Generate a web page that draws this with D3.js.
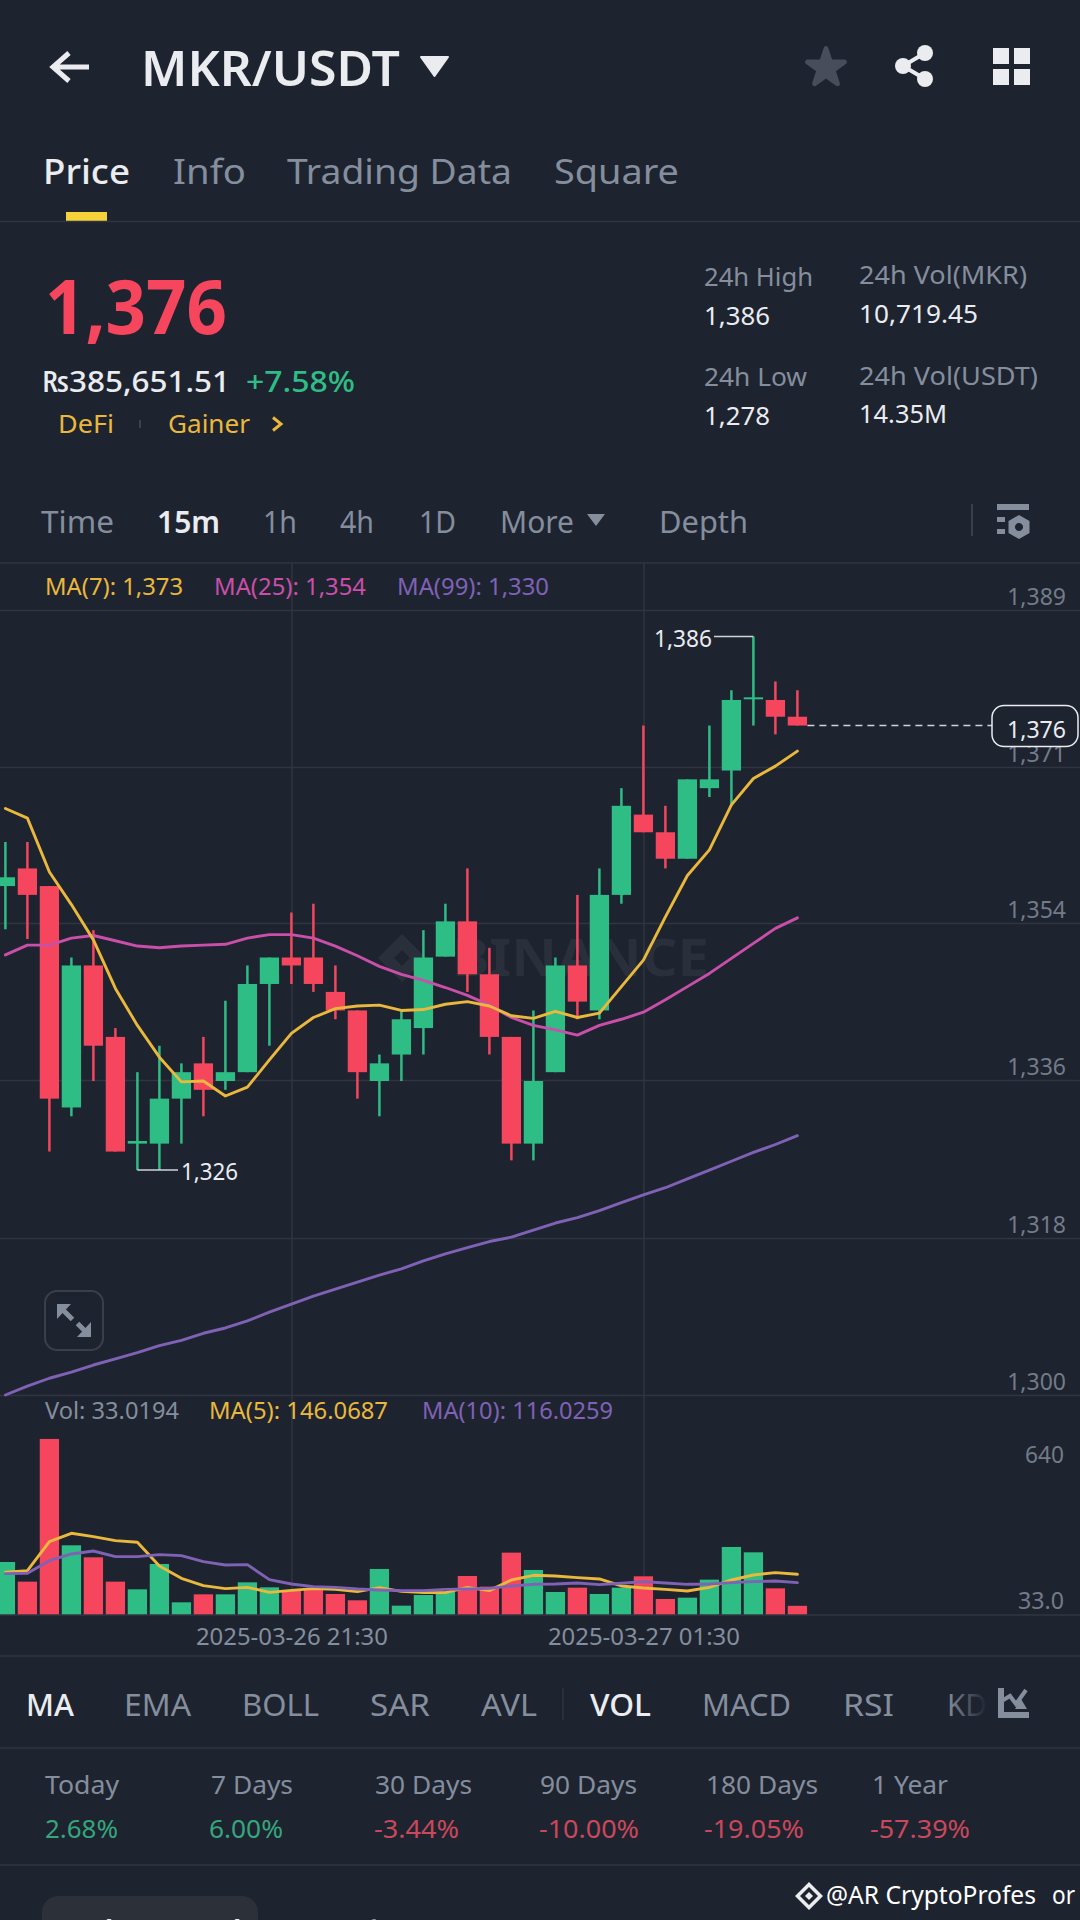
<!DOCTYPE html>
<html><head><meta charset="utf-8">
<script src="https://cdn.jsdelivr.net/npm/d3@7"></script>
<style>
html,body{margin:0;padding:0;background:#1e2330;overflow:hidden}
svg{display:block}
text{font-family:"Noto Sans",Roboto,sans-serif}
</style></head><body><div id="c"></div>
<script>
const opens=[1357.7,1359.7,1357.7,1332.6,1348.7,1340.6,1328.5,1328.5,1333.6,1337.6,1335.6,1336.6,1346.6,1349.6,1349.6,1345.7,1343.6,1335.6,1338.6,1341.6,1349.7,1353.7,1347.7,1340.6,1328.5,1336.6,1348.7,1343.6,1356.7,1365.8,1363.8,1360.8,1368.8,1370.8,1378.9,1378.8,1376.9];
const closes=[1358.7,1356.7,1333.6,1348.7,1339.6,1327.6,1328.8,1333.6,1336.6,1334.6,1336.6,1346.6,1349.6,1348.7,1346.6,1343.6,1336.6,1337.6,1342.6,1349.6,1353.7,1347.7,1340.6,1328.5,1335.6,1348.7,1344.6,1356.7,1366.8,1363.8,1360.8,1369.8,1369.8,1378.8,1379.1,1376.9,1375.9];
const highs=[1362.7,1362.7,1357.7,1349.6,1352.7,1341.6,1336.6,1339.6,1337.6,1340.6,1344.7,1348.7,1349.6,1354.7,1355.7,1348.7,1343.6,1338.6,1343.6,1352.7,1355.7,1359.7,1350.7,1340.6,1343.6,1349.6,1356.7,1359.7,1368.8,1375.9,1366.8,1369.8,1375.9,1379.9,1386,1380.9,1379.9];
const lows=[1352.8,1351.7,1327.6,1331.6,1335.6,1327.6,1325.5,1325.5,1328.5,1331.6,1334.6,1336.6,1339.6,1346.6,1345.7,1342.6,1333.6,1331.6,1335.6,1338.6,1349.7,1345.7,1338.6,1326.6,1326.6,1336.6,1342.6,1342.6,1355.7,1363.8,1359.7,1360.8,1367.8,1366.8,1375.9,1374.9,1375.9];
const ma7=[1366.5,1365.4,1359.3,1355.6,1351.6,1346.1,1341.9,1338.3,1335.5,1335.6,1333.9,1334.9,1338.0,1341.0,1342.8,1343.8,1344.1,1344.2,1343.6,1343.7,1344.3,1344.6,1344.1,1343.0,1342.7,1343.5,1342.8,1343.3,1346.3,1349.3,1354.2,1358.9,1361.8,1366.9,1369.9,1371.3,1373.0];
const ma25=[1349.9,1351.0,1351.0,1351.8,1352.1,1351.5,1350.9,1350.7,1350.9,1351.0,1351.1,1351.8,1352.2,1352.2,1351.8,1350.9,1349.8,1348.6,1347.7,1347.0,1346.2,1345.3,1344.2,1342.8,1341.9,1341.4,1340.8,1341.9,1342.6,1343.4,1344.8,1346.3,1347.8,1349.5,1351.2,1352.9,1354.1];
const ma99=[1300.0,1301.0,1301.9,1302.6,1303.4,1304.1,1304.8,1305.6,1306.2,1307.0,1307.6,1308.4,1309.4,1310.3,1311.2,1312.0,1312.8,1313.6,1314.3,1315.2,1316.0,1316.7,1317.4,1317.9,1318.7,1319.5,1320.1,1320.9,1321.8,1322.7,1323.5,1324.5,1325.5,1326.5,1327.5,1328.4,1329.4];
const volumes=[190.6,119.9,633,250.6,207.4,119.9,92.3,183.5,45.6,74.3,74.3,117.5,99.5,87.5,92.3,75.5,52.8,165.5,33.6,71.9,83.9,140.3,101.9,224.2,161.9,82.7,98.3,75.5,98.3,139.1,57.6,62.4,127.1,244.6,225.4,95.9,33.0];
const volMa5=[153.5,159.5,263.8,293.8,281.8,267.4,261.4,176.3,131.9,105.5,94.7,99.5,81.5,88.7,94.7,92.3,83.9,98.3,85.1,80.3,80.3,99.5,87.5,125.9,142.7,140.3,134.3,129.5,104.3,97.1,92.3,86.3,99.5,125.9,143.9,152.3,146.3];
const volMa10=[148.7,149.9,195.4,219.4,230.2,209.8,209.8,217,213.4,191.8,179.9,181.1,127.1,111.5,101.9,99.5,93.5,89.9,87.5,87.5,92.3,93.5,95.9,104.3,110.3,111.5,115.1,109.1,113.9,119.9,115.1,110.3,111.5,116.3,119.9,122.3,116.3];
const priceTicks=[1389,1371.2,1353.5,1335.7,1317.8,1300];
const priceLabels=["1,389","1,371","1,354","1,336","1,318","1,300"];
const timeTicks=[13,29];
const timeLabels=["2025-03-26 21:30","2025-03-27 01:30"];
const BG="#1e2330",GRID="#30363f",UP="#2ebd85",DOWN="#f6465d",WHITE="#eaecef",GREY="#848e9c",YEL="#e9b83c",PINK="#c94fa9",PUR="#7f62b5";

const W=1080,H=1920;
const svg=d3.select("#c").append("svg").attr("width",W).attr("height",H).attr("viewBox",`0 0 ${W} ${H}`);
svg.append("rect").attr("width",W).attr("height",H).attr("fill",BG);
function T(x,y,s,size,color,weight,width,parent){
  const t=(parent||svg).append("text").attr("x",x).attr("y",y).attr("font-size",size).attr("fill",color).attr("font-weight",weight||400).text(s);
  if(width) t.attr("textLength",width).attr("lengthAdjust","spacingAndGlyphs");
  return t;
}
function HL(y,c){svg.append("line").attr("x1",0).attr("x2",W).attr("y1",y).attr("y2",y).attr("stroke",c||GRID).attr("stroke-width",1.5);}

// Header
svg.append("path").attr("d","M89 67H54M69 53L53 67L69 81").attr("fill","none").attr("stroke",WHITE).attr("stroke-width",5);
T(141,86,"MKR/USDT",48,WHITE,600,259);
svg.append("path").attr("d","M421 57H448L434.5 76Z").attr("fill",WHITE).attr("stroke",WHITE).attr("stroke-width",2).attr("stroke-linejoin","round");
svg.append("path").attr("d",d3.symbol(d3.symbolStar,420)()).attr("transform","translate(826,68)").attr("fill","#474d5a").attr("stroke","#474d5a").attr("stroke-width",5).attr("stroke-linejoin","round");
svg.append("path").attr("d","M925 53L903 66L925 79").attr("fill","none").attr("stroke",WHITE).attr("stroke-width",4);
[[925,53],[903,66],[925,79]].forEach(p=>svg.append("circle").attr("cx",p[0]).attr("cy",p[1]).attr("r",8).attr("fill",WHITE));
[[993,48],[1014,48],[993,69],[1014,69]].forEach(p=>svg.append("rect").attr("x",p[0]).attr("y",p[1]).attr("width",16).attr("height",16).attr("fill",WHITE));

// Tabs
T(43,184,"Price",35,WHITE,500,87);
T(173,184,"Info",35,GREY,400,73);
T(287,184,"Trading Data",35,GREY,400,225);
T(554,184,"Square",35,GREY,400,125);
svg.append("rect").attr("x",66).attr("y",212).attr("width",41).attr("height",9).attr("fill","#f5d13a");
HL(221.5);

// Price block
T(45,334,"1,376",75,DOWN,700,182);
T(42,392,"₨385,651.51",29,WHITE,500,188);
T(246,392,"+7.58%",29,UP,500,109);
T(58,433,"DeFi",25,YEL,400,56);
svg.append("line").attr("x1",140).attr("x2",140).attr("y1",420).attr("y2",428).attr("stroke","#474d57").attr("stroke-width",1.5);
T(168,433,"Gainer",25,YEL,400,82);
svg.append("path").attr("d","M273 417.5L281 424L273 430.5").attr("fill","none").attr("stroke",YEL).attr("stroke-width",3);
T(704,286,"24h High",26,GREY,400,109);
T(704,325,"1,386",26,WHITE,400,66);
T(859,284,"24h Vol(MKR)",26,GREY,400,168);
T(859,323,"10,719.45",26,WHITE,400,119);
T(704,386,"24h Low",26,GREY,400,103);
T(704,425,"1,278",26,WHITE,400,66);
T(859,385,"24h Vol(USDT)",26,GREY,400,179);
T(859,423,"14.35M",26,WHITE,400,88);

// Period row
T(41,533,"Time",30,GREY,400,73);
T(157,533,"15m",30,WHITE,600,63);
T(263,533,"1h",30,GREY,400,34);
T(340,533,"4h",30,GREY,400,34);
T(419,533,"1D",30,GREY,400,37);
T(500,533,"More",30,GREY,400,74);
svg.append("path").attr("d","M587 514H605L596 526Z").attr("fill",GREY);
T(659,533,"Depth",30,GREY,400,89);
svg.append("line").attr("x1",972).attr("x2",972).attr("y1",504).attr("y2",536).attr("stroke","#3a404b").attr("stroke-width",2);
svg.append("rect").attr("x",997).attr("y",504).attr("width",32).attr("height",6).attr("fill",GREY);
svg.append("rect").attr("x",997).attr("y",517).attr("width",8).attr("height",5).attr("fill",GREY);
svg.append("rect").attr("x",997).attr("y",529).attr("width",8).attr("height",5).attr("fill",GREY);
svg.append("path").attr("fill-rule","evenodd").attr("d","M1019 515L1029.5 521V533L1019 539L1008.5 533V521ZM1019 523a4 4 0 1 0 0.01 0Z").attr("fill",GREY);
HL(563);

// Scales
const x=d3.scaleLinear().domain([0,36]).range([5.4,797.4]);
const y=d3.scaleLinear().domain([1300,1389]).range([1395,610]);
const yVol=d3.scaleLinear().domain([0,640]).range([1615,1437]);

// Vertical grid via time axis
const gx=svg.append("g").attr("transform","translate(0,563)").call(
  d3.axisBottom(x).tickValues(timeTicks).tickSize(1052).tickFormat((d,i)=>timeLabels[i]));
gx.select(".domain").remove();
gx.selectAll("line").attr("stroke",GRID).attr("stroke-width",1.5);
gx.selectAll("text").attr("y",1082).attr("dy",0).attr("font-size",23).attr("fill",GREY).attr("font-family",null).attr("textLength",192).attr("lengthAdjust","spacingAndGlyphs");

// Horizontal grid + price axis
const gy=svg.append("g").call(d3.axisRight(y).tickValues(priceTicks).tickSize(W).tickFormat((d,i)=>priceLabels[i]));
gy.select(".domain").remove();
gy.selectAll("line").attr("stroke",GRID).attr("stroke-width",1.5);
gy.selectAll("text").attr("x",1066).attr("dy",0).attr("y",-5.5).attr("text-anchor","end").attr("font-size",23).attr("fill","#737b88");

// Watermark
const wm=svg.append("g").attr("fill","#2a303b");
wm.append("path").attr("fill-rule","evenodd").attr("d","M402 934L426 958L402 982L378 958ZM402 950L410 958L402 966L394 958Z");
T(452,975.5,"BINANCE",52,"#2a303b",700,257,wm);

// Legends
T(45,595,"MA(7): 1,373",23,YEL,400,138);
T(214,595,"MA(25): 1,354",23,PINK,400,152);
T(397,595,"MA(99): 1,330",23,PUR,400,152);

// Candles
const idx=d3.range(opens.length);
const isUp=i=>closes[i]>=opens[i];
svg.append("g").selectAll("line").data(idx).join("line")
  .attr("x1",i=>x(i)).attr("x2",i=>x(i)).attr("y1",i=>y(highs[i])).attr("y2",i=>y(lows[i]))
  .attr("stroke",i=>isUp(i)?UP:DOWN).attr("stroke-width",2.5);
const bw=19.3;
svg.append("g").selectAll("rect").data(idx).join("rect")
  .attr("x",i=>x(i)-bw/2).attr("width",bw)
  .attr("y",i=>y(Math.max(opens[i],closes[i])))
  .attr("height",i=>Math.max(2,Math.abs(y(opens[i])-y(closes[i]))))
  .attr("fill",i=>isUp(i)?UP:DOWN);

// MA lines
const line=a=>d3.line().x((d,i)=>x(i)).y(d=>a(d));
function drawLine(data,scale,color){svg.append("path").datum(data).attr("d",line(scale)).attr("fill","none").attr("stroke",color).attr("stroke-width",2.9).attr("stroke-linejoin","round").attr("stroke-linecap","round");}
drawLine(ma99,y,PUR);
drawLine(ma25,y,PINK);
drawLine(ma7,y,YEL);

// High / low annotations
const hiI=d3.maxIndex(highs),loI=6;
svg.append("path").attr("d",`M${x(hiI)} ${y(highs[hiI])}H714`).attr("fill","none").attr("stroke","#cfd3d8").attr("stroke-width",1.5);
T(654,646.5,"1,386",23,WHITE,400,58);
svg.append("path").attr("d",`M${x(loI)} ${y(lows[loI])}H178`).attr("fill","none").attr("stroke","#cfd3d8").attr("stroke-width",1.5);
T(181,1179.5,"1,326",23,WHITE,400,57);

// Current price
svg.append("line").attr("x1",x(36)+10).attr("x2",992).attr("y1",y(closes[36])).attr("y2",y(closes[36])).attr("stroke","#cfd3d8").attr("stroke-width",1.5).attr("stroke-dasharray","7 5");
svg.append("rect").attr("x",992).attr("y",705.5).attr("width",86).attr("height",41).attr("rx",12).attr("fill",BG).attr("stroke",WHITE).attr("stroke-width",1.5);
T(1007,737.5,"1,376",23,WHITE,400,59);

// Expand button
svg.append("rect").attr("x",45).attr("y",1291).attr("width",58).attr("height",59).attr("rx",12).attr("fill","none").attr("stroke","#3a404b").attr("stroke-width",2);
svg.append("path").attr("d","M57 1304H71L57 1319Z M91 1337H77L91 1322Z").attr("fill",GREY);
svg.append("path").attr("d","M62 1309L72.5 1319.5 M86 1332L77.5 1323.5").attr("fill","none").attr("stroke",GREY).attr("stroke-width",5);

// Volume
svg.append("g").selectAll("rect").data(idx).join("rect")
  .attr("x",i=>x(i)-bw/2).attr("width",bw)
  .attr("y",i=>yVol(volumes[i])).attr("height",i=>yVol(0)-yVol(volumes[i]))
  .attr("fill",i=>isUp(i)?UP:DOWN);
drawLine(volMa5,yVol,YEL);
drawLine(volMa10,yVol,PUR);
T(45,1419,"Vol: 33.0194",23,GREY,400,134);
T(209,1419,"MA(5): 146.0687",23,YEL,400,179);
T(422,1419,"MA(10): 116.0259",23,PUR,400,191);
T(1025,1463,"640",23,"#737b88",400,39);
T(1018,1609,"33.0",23,"#737b88",400,46);
HL(1615);

// Indicator row
HL(1656);
T(26,1716,"MA",30,WHITE,500,48);
T(124,1716,"EMA",30,GREY,400,67);
T(242,1716,"BOLL",30,GREY,400,77);
T(370,1716,"SAR",30,GREY,400,60);
T(481,1716,"AVL",30,GREY,400,56);
svg.append("line").attr("x1",563).attr("x2",563).attr("y1",1688).attr("y2",1720).attr("stroke","#30363f").attr("stroke-width",1.5);
T(590,1716,"VOL",30,WHITE,500,61);
T(702,1716,"MACD",30,GREY,400,89);
T(843,1716,"RSI",30,GREY,400,51);
const fade=svg.append("defs").append("linearGradient").attr("id","kdf").attr("gradientUnits","userSpaceOnUse").attr("x1",947).attr("x2",987).attr("y1",0).attr("y2",0);
fade.append("stop").attr("offset",0).attr("stop-color",GREY);
fade.append("stop").attr("offset",1).attr("stop-color",BG);
T(947,1716,"KD",30,"url(#kdf)",400,40);
svg.append("path").attr("d","M998 1688H1004V1712H1029V1718H998Z").attr("fill",GREY);
svg.append("path").attr("d","M1000 1702L1010 1696L1016 1704L1026 1690").attr("fill","none").attr("stroke",GREY).attr("stroke-width",4);
svg.append("path").attr("d","M1015 1709L1021 1699L1027 1709Z").attr("fill",GREY);
HL(1748);

// Stats row
const statGreen="#36a67c",statRed="#c9485b";
T(45,1794,"Today",26,GREY,400,74);
T(211,1794,"7 Days",26,GREY,400,82);
T(375,1794,"30 Days",26,GREY,400,97);
T(540,1794,"90 Days",26,GREY,400,97);
T(706,1794,"180 Days",26,GREY,400,112);
T(872,1794,"1 Year",26,GREY,400,76);
T(45,1838,"2.68%",26,statGreen,400,73);
T(209,1838,"6.00%",26,statGreen,400,74);
T(374,1838,"-3.44%",26,statRed,400,85);
T(539,1838,"-10.00%",26,statRed,400,100);
T(704,1838,"-19.05%",26,statRed,400,100);
T(870,1838,"-57.39%",26,statRed,400,100);
HL(1865);

// Bottom card
svg.append("rect").attr("x",42).attr("y",1896).attr("width",216).attr("height",60).attr("rx",16).attr("fill","#2b3039");
T(46,1945,"Order Book",34,WHITE,500,207);
T(296,1945,"Trades",34,GREY,400,125);

// Source watermark
const lg=svg.append("g").attr("fill","#eaecef").attr("transform","translate(809,1896)");
lg.append("path").attr("fill-rule","evenodd").attr("d","M0 -14L14 0L0 14L-14 0ZM0 -9L-9 0L0 9L9 0Z");
lg.append("path").attr("d","M0 -4L4 0L0 4L-4 0Z");
T(826,1904,"@AR CryptoProfes",26,"#ffffff",400,210);
T(1052,1904,"or",26,"#ffffff",400,23);
</script></body></html>
